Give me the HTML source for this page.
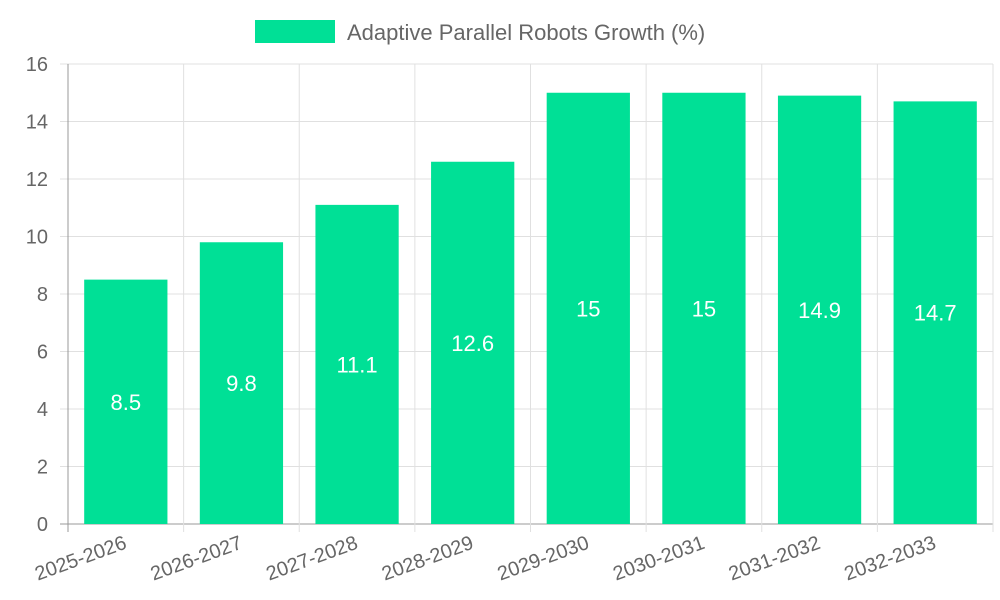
<!DOCTYPE html>
<html><head><meta charset="utf-8"><style>
html,body{margin:0;padding:0;background:#fff;}
svg{display:block;font-family:"Liberation Sans",sans-serif;}
</style></head><body>
<svg id="chart" width="1000" height="600">
<g id="grid"></g>
<g id="bars"></g>
<g id="axes"></g>
<g>
<rect x="255" y="20" width="80" height="23" fill="#00e096"/>
<text x="347" y="40" font-size="22" fill="#666">Adaptive Parallel Robots Growth (%)</text>
</g>
</svg>
<script>
const categories=["2025-2026","2026-2027","2027-2028","2028-2029","2029-2030","2030-2031","2031-2032","2032-2033"];
const values=[8.5,9.8,11.1,12.6,15,15,14.9,14.7];
const yTicks=[0,2,4,6,8,10,12,14,16];
const NS="http://www.w3.org/2000/svg";
const L=68,R=993,T=64,B=524,yMax=16;
const y=v=>B-(v/yMax)*(B-T);
const cw=(R-L)/categories.length;
const x=i=>L+cw*i;
function mk(tag,attrs,parent){const e=document.createElementNS(NS,tag);for(const k in attrs)e.setAttribute(k,attrs[k]);parent.appendChild(e);return e;}
const grid=document.getElementById('grid'),bars=document.getElementById('bars'),axes=document.getElementById('axes');
yTicks.forEach(t=>{
 const ln=mk('line',{x1:60,x2:R,y1:y(t),y2:y(t),stroke:t===0?'#999':'#e0e0e0','stroke-width':1},grid);
 
 
 const tx=mk('text',{x:48,y:y(t)+7,'text-anchor':'end','font-size':20,fill:'#666'},axes);
 tx.textContent=t;
 
 
});
for(let i=0;i<=categories.length;i++){
 const ln=mk('line',{x1:x(i),x2:x(i),y1:T,y2:B+8,stroke:i===0?'#999':'#e0e0e0','stroke-width':1},grid);
 
 
}
categories.forEach((c,i)=>{
 const bw=cw*0.72,bx=x(i)+(cw-bw)/2,v=values[i];
 const r=mk('rect',{x:bx,y:y(v),width:bw,height:B-y(v),fill:'#00e096'},bars);
 
 
 const vt=mk('text',{x:x(i)+cw/2,y:(y(v)+B)/2+8,'text-anchor':'middle','font-size':22,fill:'#fff'},bars);
 vt.textContent=v;
 
 
 const cx=x(i)+cw/2+2,cy=548;
 const lt=mk('text',{x:cx,y:cy,'text-anchor':'end','font-size':20,fill:'#666',transform:`rotate(-20 ${cx} ${cy})`},axes);
 lt.textContent=c;
 
 
});
</script>
</body></html>
